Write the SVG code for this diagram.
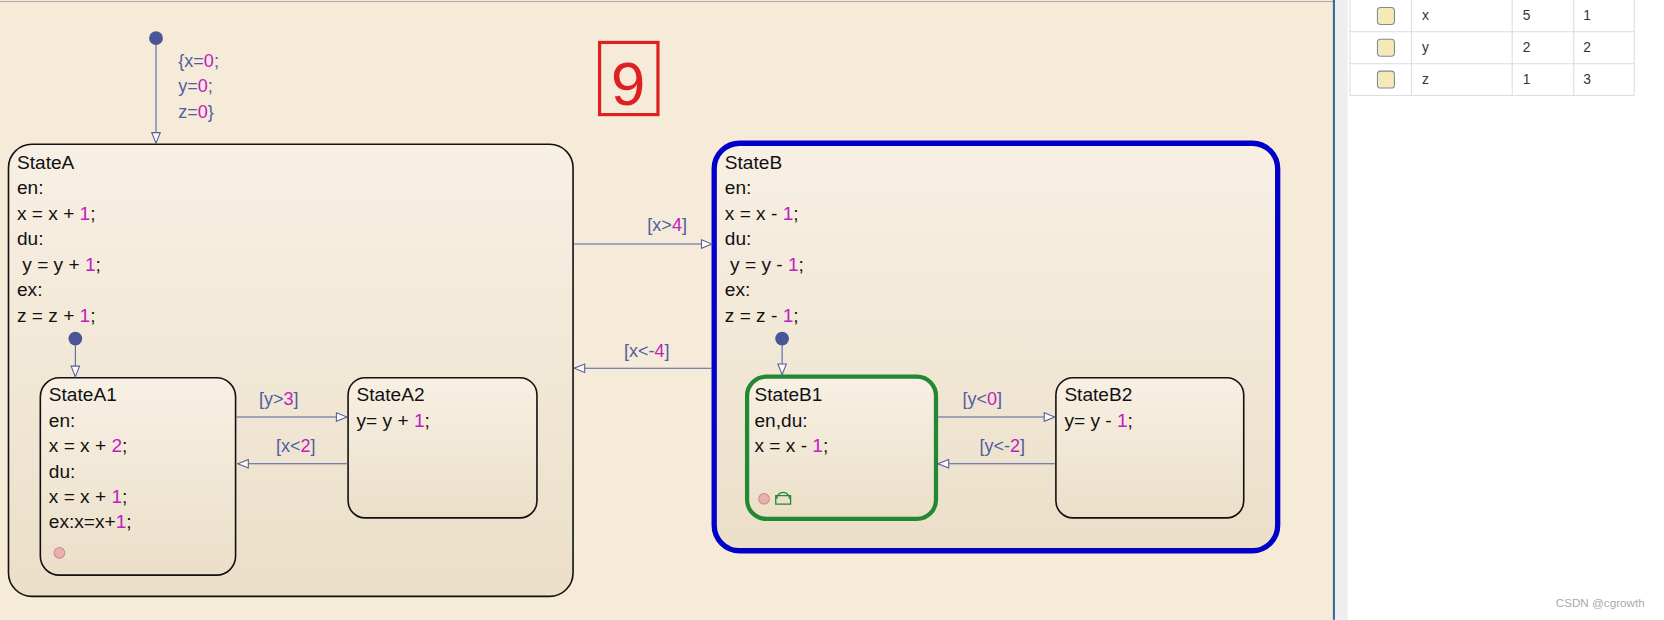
<svg xmlns="http://www.w3.org/2000/svg" width="1664" height="620" viewBox="0 0 1664 620">
<defs>
<linearGradient id="g" x1="0" y1="0" x2="0" y2="1"><stop offset="0" stop-color="#f8f0e4"/><stop offset="1" stop-color="#ebdfc8"/></linearGradient>
<marker id="ar" markerWidth="12" markerHeight="10" refX="11" refY="5" orient="auto" markerUnits="userSpaceOnUse"><path d="M1,1 L11,5 L1,9 Z" fill="#fff8ee" stroke="#5060a0" stroke-width="1"/></marker>
<style>
.t{font-family:"Liberation Sans",Arial,sans-serif;font-size:18px;fill:#111}
.l{font-family:"Liberation Sans",Arial,sans-serif;font-size:17px;fill:#5060a0}
.n{fill:#c020c0}
.st{fill:url(#g);stroke:#111;stroke-width:1.5}
.sb{fill:url(#g);stroke:#0000c8;stroke-width:5}
.sg{fill:url(#g);stroke:#228833;stroke-width:4}
.c{stroke:#5060a0;stroke-width:1;fill:none;marker-end:url(#ar)}
.d{fill:#4a5598}
.tb{font-family:"Liberation Sans",Arial,sans-serif;font-size:13px;fill:#333}
.g{stroke:#ddd;stroke-width:1}
</style>
</defs>
<g transform="scale(1.0612)">
<rect x="0" y="0" width="1258" height="584" fill="#f6ead8"/>
<line x1="0" y1="1.5" x2="1256" y2="1.5" stroke="#aaa"/>
<rect x="1256" y="0" width="2" height="584" fill="#3a6a9a"/>
<rect x="1258" y="0" width="12" height="584" fill="#eee"/>
<rect x="1270" y="0" width="298" height="584" fill="#fff"/>
<g id="table">
<line class="g" x1="1272" y1="0" x2="1272" y2="90"/>
<line class="g" x1="1330" y1="0" x2="1330" y2="90"/>
<line class="g" x1="1425" y1="0" x2="1425" y2="90"/>
<line class="g" x1="1483" y1="0" x2="1483" y2="90"/>
<line class="g" x1="1540" y1="0" x2="1540" y2="90"/>
<line class="g" x1="1272" y1="30" x2="1540" y2="30"/>
<line class="g" x1="1272" y1="60" x2="1540" y2="60"/>
<line class="g" x1="1272" y1="90" x2="1540" y2="90"/>
<rect x="1298" y="7" width="16" height="16" rx="3" fill="#f5e9b8" stroke="#7a8aa0"/>
<rect x="1298" y="37" width="16" height="16" rx="3" fill="#f5e9b8" stroke="#7a8aa0"/>
<rect x="1298" y="67" width="16" height="16" rx="3" fill="#f5e9b8" stroke="#7a8aa0"/>
<text class="tb" x="1340" y="19">x</text><text class="tb" x="1435" y="19">5</text><text class="tb" x="1492" y="19">1</text>
<text class="tb" x="1340" y="49">y</text><text class="tb" x="1435" y="49">2</text><text class="tb" x="1492" y="49">2</text>
<text class="tb" x="1340" y="79">z</text><text class="tb" x="1435" y="79">1</text><text class="tb" x="1492" y="79">3</text>
</g>
<text x="1466" y="572" font-family="Liberation Sans,sans-serif" font-size="11" fill="#aaa">CSDN @cgrowth</text>

<g id="step">
<rect x="565" y="40" width="55" height="68" fill="none" stroke="#e02020" stroke-width="3"/>
<text x="592" y="99" text-anchor="middle" font-family="Liberation Sans,sans-serif" font-size="58" fill="#e02020">9</text>
</g>

<g id="StateA">
<rect class="st" x="8" y="136" width="532" height="426" rx="22"/>
<text class="t" x="16" y="159">StateA</text>
<text class="t" x="16" y="183">en:</text>
<text class="t" x="16" y="207">x = x + <tspan class="n">1</tspan>;</text>
<text class="t" x="16" y="231">du:</text>
<text class="t" x="16" y="255" xml:space="preserve"> y = y + <tspan class="n">1</tspan>;</text>
<text class="t" x="16" y="279">ex:</text>
<text class="t" x="16" y="303">z = z + <tspan class="n">1</tspan>;</text>
</g>
<g id="StateA1">
<rect class="st" x="38" y="356" width="184" height="186" rx="18"/>
<text class="t" x="46" y="378">StateA1</text>
<text class="t" x="46" y="402">en:</text>
<text class="t" x="46" y="426">x = x + <tspan class="n">2</tspan>;</text>
<text class="t" x="46" y="450">du:</text>
<text class="t" x="46" y="474">x = x + <tspan class="n">1</tspan>;</text>
<text class="t" x="46" y="498">ex:x=x+<tspan class="n">1</tspan>;</text>
<circle cx="56" cy="521" r="5" fill="#eab0b0" stroke="#c88"/>
</g>
<g id="StateA2">
<rect class="st" x="328" y="356" width="178" height="132" rx="16"/>
<text class="t" x="336" y="378">StateA2</text>
<text class="t" x="336" y="402">y= y + <tspan class="n">1</tspan>;</text>
</g>
<g id="StateB">
<rect class="sb" x="673" y="135" width="531" height="384" rx="24"/>
<text class="t" x="683" y="159">StateB</text>
<text class="t" x="683" y="183">en:</text>
<text class="t" x="683" y="207">x = x - <tspan class="n">1</tspan>;</text>
<text class="t" x="683" y="231">du:</text>
<text class="t" x="683" y="255" xml:space="preserve"> y = y - <tspan class="n">1</tspan>;</text>
<text class="t" x="683" y="279">ex:</text>
<text class="t" x="683" y="303">z = z - <tspan class="n">1</tspan>;</text>
</g>
<g id="StateB1">
<rect class="sg" x="704" y="355" width="178" height="134" rx="18"/>
<text class="t" x="711" y="378">StateB1</text>
<text class="t" x="711" y="402">en,du:</text>
<text class="t" x="711" y="426">x = x - <tspan class="n">1</tspan>;</text>
<circle cx="720" cy="470" r="5" fill="#eab0b0" stroke="#c88"/>
<path d="M732,470 a6,6 0 0 1 12,0 M731,467 h14 v8 h-14 z" fill="none" stroke="#228833" stroke-width="1.2"/>
</g>
<g id="StateB2">
<rect class="st" x="995" y="356" width="177" height="132" rx="16"/>
<text class="t" x="1003" y="378">StateB2</text>
<text class="t" x="1003" y="402">y= y - <tspan class="n">1</tspan>;</text>
</g>

<g id="connectors">
<circle class="d" cx="147" cy="36" r="6.5"/>
<line class="c" x1="147" y1="42" x2="147" y2="135"/>
<text class="l" x="168" y="63">{x=<tspan class="n">0</tspan>;</text>
<text class="l" x="168" y="87">y=<tspan class="n">0</tspan>;</text>
<text class="l" x="168" y="111">z=<tspan class="n">0</tspan>}</text>
<circle class="d" cx="71" cy="319" r="6.5"/>
<line class="c" x1="71" y1="325" x2="71" y2="355"/>
<circle class="d" cx="737" cy="319" r="6.5"/>
<line class="c" x1="737" y1="325" x2="737" y2="353"/>
<line class="c" x1="541" y1="230" x2="671" y2="230"/>
<text class="l" x="610" y="218">[x&gt;<tspan class="n">4</tspan>]</text>
<line class="c" x1="671" y1="347" x2="541" y2="347"/>
<text class="l" x="588" y="336">[x&lt;-<tspan class="n">4</tspan>]</text>
<line class="c" x1="223" y1="393" x2="327" y2="393"/>
<text class="l" x="244" y="382">[y&gt;<tspan class="n">3</tspan>]</text>
<line class="c" x1="328" y1="437" x2="224" y2="437"/>
<text class="l" x="260" y="426">[x&lt;<tspan class="n">2</tspan>]</text>
<line class="c" x1="884" y1="393" x2="994" y2="393"/>
<text class="l" x="907" y="382">[y&lt;<tspan class="n">0</tspan>]</text>
<line class="c" x1="994" y1="437" x2="884" y2="437"/>
<text class="l" x="923" y="426">[y&lt;-<tspan class="n">2</tspan>]</text>
</g>
</g>
</svg>
